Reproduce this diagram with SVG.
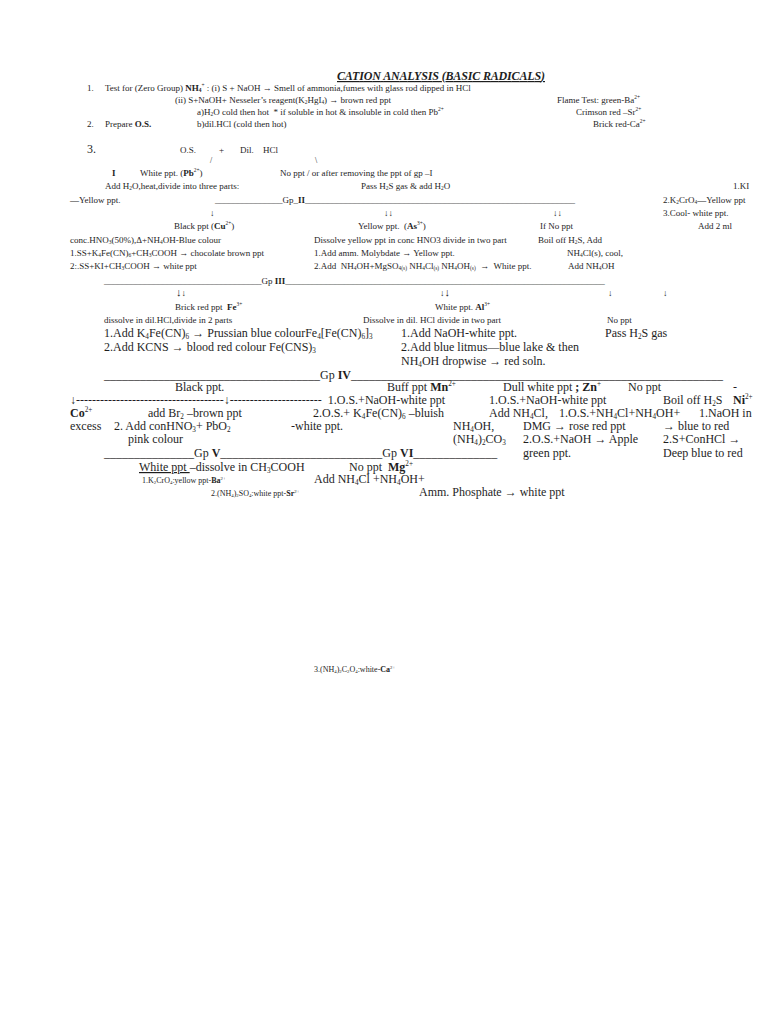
<svg xmlns="http://www.w3.org/2000/svg" width="768" height="1024" viewBox="0 0 768 1024">
<style>
text{font-family:"Liberation Serif","Times New Roman",serif;fill:#1e1e1e;white-space:pre}
.s9{font-size:9px}.s12{font-size:12px}.s8{font-size:8px}
.b{font-weight:bold}
.title{font-size:12px;font-weight:bold;font-style:italic;text-decoration:underline}
.sub{font-size:60%;baseline-shift:-0.25em}
.sup{font-size:60%;baseline-shift:0.7em}
.u{text-decoration:underline}
</style>
<rect width="768" height="1024" fill="#fff"/>
<g id="header">
<text class="title" x="337" y="80" textLength="208">CATION ANALYSIS (BASIC RADICALS)</text>
<text class="s9" x="87" y="91">1.</text>
<text class="s9" x="105" y="91">Test for (Zero Group) <tspan class="b">NH</tspan><tspan class="sub b">4</tspan><tspan class="sup">+</tspan> : (i) S + NaOH → Smell of ammonia,fumes with glass rod dipped in HCl</text>
<text class="s9" x="175" y="103">(ii) S+NaOH+ Nesseler’s reagent(K<tspan class="sub">2</tspan>HgI<tspan class="sub">4</tspan>) → brown red ppt</text>
<text class="s9" x="557" y="103">Flame Test: green-Ba<tspan class="sup">2+</tspan></text>
<text class="s9" x="197" y="115">a)H<tspan class="sub">2</tspan>O cold then hot  * if soluble in hot &amp; insoluble in cold then Pb<tspan class="sup">2+</tspan></text>
<text class="s9" x="576" y="115">Crimson red –Sr<tspan class="sup">2+</tspan></text>
<text class="s9" x="87" y="127">2.</text>
<text class="s9" x="105" y="127">Prepare <tspan class="b">O.S.</tspan></text>
<text class="s9" x="197" y="127">b)dil.HCl (cold then hot)</text>
<text class="s9" x="593" y="127">Brick red-Ca<tspan class="sup">2+</tspan></text>
</g>
<g id="group1">
<text class="s12" x="87" y="153">3.</text>
<text class="s9" x="180" y="153">O.S.</text>
<text class="s9" x="219" y="153">+</text>
<text class="s9" x="240" y="153">Dil.</text>
<text class="s9" x="263" y="153">HCl</text>
<text class="s8" x="210" y="163">/</text>
<text class="s8" x="315" y="163">\</text>
<text class="s9 b" x="112" y="176">I</text>
<text class="s9" x="140" y="176">White ppt. (<tspan class="b">Pb</tspan><tspan class="sup">2+</tspan>)</text>
<text class="s9" x="280" y="176">No ppt / or after removing the ppt of gp –I</text>
<text class="s9" x="105" y="189">Add H<tspan class="sub">2</tspan>O,heat,divide into three parts:</text>
<text class="s9" x="361" y="189">Pass H<tspan class="sub">2</tspan>S gas &amp; add H<tspan class="sub">2</tspan>O</text>
<text class="s9" x="733" y="189">1.KI</text>
<text class="s9" x="70" y="203">—Yellow ppt.</text>
<text class="s9" x="663" y="203">2.K<tspan class="sub">2</tspan>CrO<tspan class="sub">4</tspan>—Yellow ppt</text>
<text class="s9" x="663" y="216">3.Cool- white ppt.</text>
<text class="s9" x="698" y="229">Add 2 ml</text>
</g>
<g id="group2">
<text class="s9" x="215" y="203">_______________Gp_<tspan class="b">II</tspan>____________________________________________________________</text>
<text class="s9" x="210" y="216">↓</text>
<text class="s9" x="384" y="216">↓↓</text>
<text class="s9" x="553" y="216">↓↓</text>
<text class="s9" x="174" y="229">Black ppt (<tspan class="b">Cu</tspan><tspan class="sup">2+</tspan>)</text>
<text class="s9" x="358" y="229">Yellow ppt.  (<tspan class="b">As</tspan><tspan class="sup">3+</tspan>)</text>
<text class="s9" x="540" y="229">If No ppt</text>
<text class="s9" x="70" y="243">conc.HNO<tspan class="sub">3</tspan>(50%),Δ+NH<tspan class="sub">4</tspan>OH-Blue colour</text>
<text class="s9" x="314" y="243">Dissolve yellow ppt in conc HNO3 divide in two part</text>
<text class="s9" x="538" y="243">Boil off H<tspan class="sub">2</tspan>S, Add</text>
<text class="s9" x="70" y="256">1.SS+K<tspan class="sub">4</tspan>Fe(CN)<tspan class="sub">6</tspan>+CH<tspan class="sub">3</tspan>COOH → chocolate brown ppt</text>
<text class="s9" x="314" y="256">1.Add amm. Molybdate → Yellow ppt.</text>
<text class="s9" x="567" y="256">NH<tspan class="sub">4</tspan>Cl(s), cool,</text>
<text class="s9" x="70" y="269">2:.SS+KI+CH<tspan class="sub">3</tspan>COOH → white ppt</text>
<text class="s9" x="314" y="269">2.Add  NH<tspan class="sub">4</tspan>OH+MgSO<tspan class="sub">4(s)</tspan> NH<tspan class="sub">4</tspan>Cl<tspan class="sub">(s)</tspan> NH<tspan class="sub">4</tspan>OH<tspan class="sub">(s)</tspan>  →  White ppt.</text>
<text class="s9" x="568" y="269">Add NH<tspan class="sub">4</tspan>OH</text>
</g>
<g id="group3">
<text class="s9" x="104" y="284">___________________________________Gp <tspan class="b">III</tspan>_______________________________________________________________________</text>
<text class="s9" x="176" y="296"><tspan class="b" font-size="11">↓</tspan>↓</text>
<text class="s9" x="440" y="296">↓<tspan class="b" font-size="11">↓</tspan></text>
<text class="s9 b" x="608" y="296" font-size="11">↓</text>
<text class="s9" x="663" y="296">↓</text>
<text class="s9" x="175" y="310">Brick red ppt  <tspan class="b">Fe</tspan><tspan class="sup">3+</tspan></text>
<text class="s9" x="435" y="310">White ppt. <tspan class="b">Al</tspan><tspan class="sup">3+</tspan></text>
<text class="s9" x="104" y="323">dissolve in dil.HCl,divide in 2 parts</text>
<text class="s9" x="363" y="323">Dissolve in dil. HCl divide in two part</text>
<text class="s9" x="607" y="323">No ppt</text>
<text class="s12" x="104" y="337">1.Add K<tspan class="sub">4</tspan>Fe(CN)<tspan class="sub">6</tspan> → Prussian blue colourFe<tspan class="sub">4</tspan>[Fe(CN)<tspan class="sub">6</tspan>]<tspan class="sub">3</tspan></text>
<text class="s12" x="401" y="337">1.Add NaOH-white ppt.</text>
<text class="s12" x="605" y="337">Pass H<tspan class="sub">2</tspan>S gas</text>
<text class="s12" x="104" y="351">2.Add KCNS → blood red colour Fe(CNS)<tspan class="sub">3</tspan></text>
<text class="s12" x="401" y="351">2.Add blue litmus—blue lake &amp; then</text>
<text class="s12" x="401" y="365">NH<tspan class="sub">4</tspan>OH dropwise → red soln.</text>
</g>
<g id="group4">
<text class="s12" x="104" y="379">____________________________________Gp <tspan class="b">IV</tspan>______________________________________________________________</text>
<text class="s12" x="175" y="391">Black ppt.</text>
<text class="s12" x="387" y="391">Buff ppt <tspan class="b">Mn</tspan><tspan class="sup">2+</tspan></text>
<text class="s12" x="503" y="391">Dull white ppt <tspan class="b">; Zn</tspan><tspan class="sup">+</tspan></text>
<text class="s12" x="628" y="391">No ppt</text>
<text class="s12" x="733" y="391">-</text>
<text class="s12" x="70" y="404"><tspan class="b">↓</tspan>-------------------------------------<tspan class="b">↓</tspan>-----------------------  1.O.S.+NaOH-white ppt</text>
<text class="s12" x="489" y="404">1.O.S.+NaOH-white ppt</text>
<text class="s12" x="663" y="404">Boil off H<tspan class="sub">2</tspan>S</text>
<text class="s12" x="733" y="404"><tspan class="b">Ni</tspan><tspan class="sup">2+</tspan></text>
<text class="s12" x="70" y="417"><tspan class="b">Co</tspan><tspan class="sup">2+</tspan></text>
<text class="s12" x="148" y="417">add Br<tspan class="sub">2</tspan> –brown ppt</text>
<text class="s12" x="313" y="417">2.O.S.+ K<tspan class="sub">4</tspan>Fe(CN)<tspan class="sub">6</tspan> –bluish</text>
<text class="s12" x="489" y="417">Add NH<tspan class="sub">4</tspan>Cl,</text>
<text class="s12" x="559" y="417">1.O.S.+NH<tspan class="sub">4</tspan>Cl+NH<tspan class="sub">4</tspan>OH+</text>
<text class="s12" x="699" y="417">1.NaOH in</text>
<text class="s12" x="70" y="430">excess</text>
<text class="s12" x="114" y="430">2. Add conHNO<tspan class="sub">3</tspan>+ PbO<tspan class="sub">2</tspan></text>
<text class="s12" x="291" y="430">-white ppt.</text>
<text class="s12" x="453" y="430">NH<tspan class="sub">4</tspan>OH,</text>
<text class="s12" x="523" y="430">DMG → rose red ppt</text>
<text class="s12" x="663" y="430">→ blue to red</text>
<text class="s12" x="128" y="443">pink colour</text>
<text class="s12" x="453" y="443">(NH<tspan class="sub">4</tspan>)<tspan class="sub">2</tspan>CO<tspan class="sub">3</tspan></text>
<text class="s12" x="523" y="443">2.O.S.+NaOH → Apple</text>
<text class="s12" x="663" y="443">2.S+ConHCl →</text>
</g>
<g id="group5-6">
<text class="s12" x="104" y="457">_______________Gp <tspan class="b">V</tspan>___________________________Gp <tspan class="b">VI</tspan>______________</text>
<text class="s12" x="523" y="457">green ppt.</text>
<text class="s12" x="663" y="457">Deep blue to red</text>
<text class="s12" x="139" y="471"><tspan class="u">White ppt </tspan>–dissolve in CH<tspan class="sub">3</tspan>COOH</text>
<text class="s12" x="349" y="471">No ppt  <tspan class="b">Mg</tspan><tspan class="sup">2+</tspan></text>
<text class="s8" x="142" y="483">1.K<tspan class="sub">2</tspan>CrO<tspan class="sub">4</tspan>:yellow ppt-<tspan class="b">Ba</tspan><tspan class="sup">2+</tspan></text>
<text class="s12" x="314" y="483">Add NH<tspan class="sub">4</tspan>Cl +NH<tspan class="sub">4</tspan>OH+</text>
<text class="s8" x="211" y="496">2.(NH<tspan class="sub">4</tspan>)<tspan class="sub">2</tspan>SO<tspan class="sub">4</tspan>:white ppt-<tspan class="b">Sr</tspan><tspan class="sup">2+</tspan></text>
<text class="s12" x="419" y="496">Amm. Phosphate → white ppt</text>
<text class="s8" x="314" y="672">3.(NH<tspan class="sub">4</tspan>)<tspan class="sub">2</tspan>C<tspan class="sub">2</tspan>O<tspan class="sub">4</tspan>:white-<tspan class="b">Ca</tspan><tspan class="sup">2+</tspan></text>
</g>
</svg>
